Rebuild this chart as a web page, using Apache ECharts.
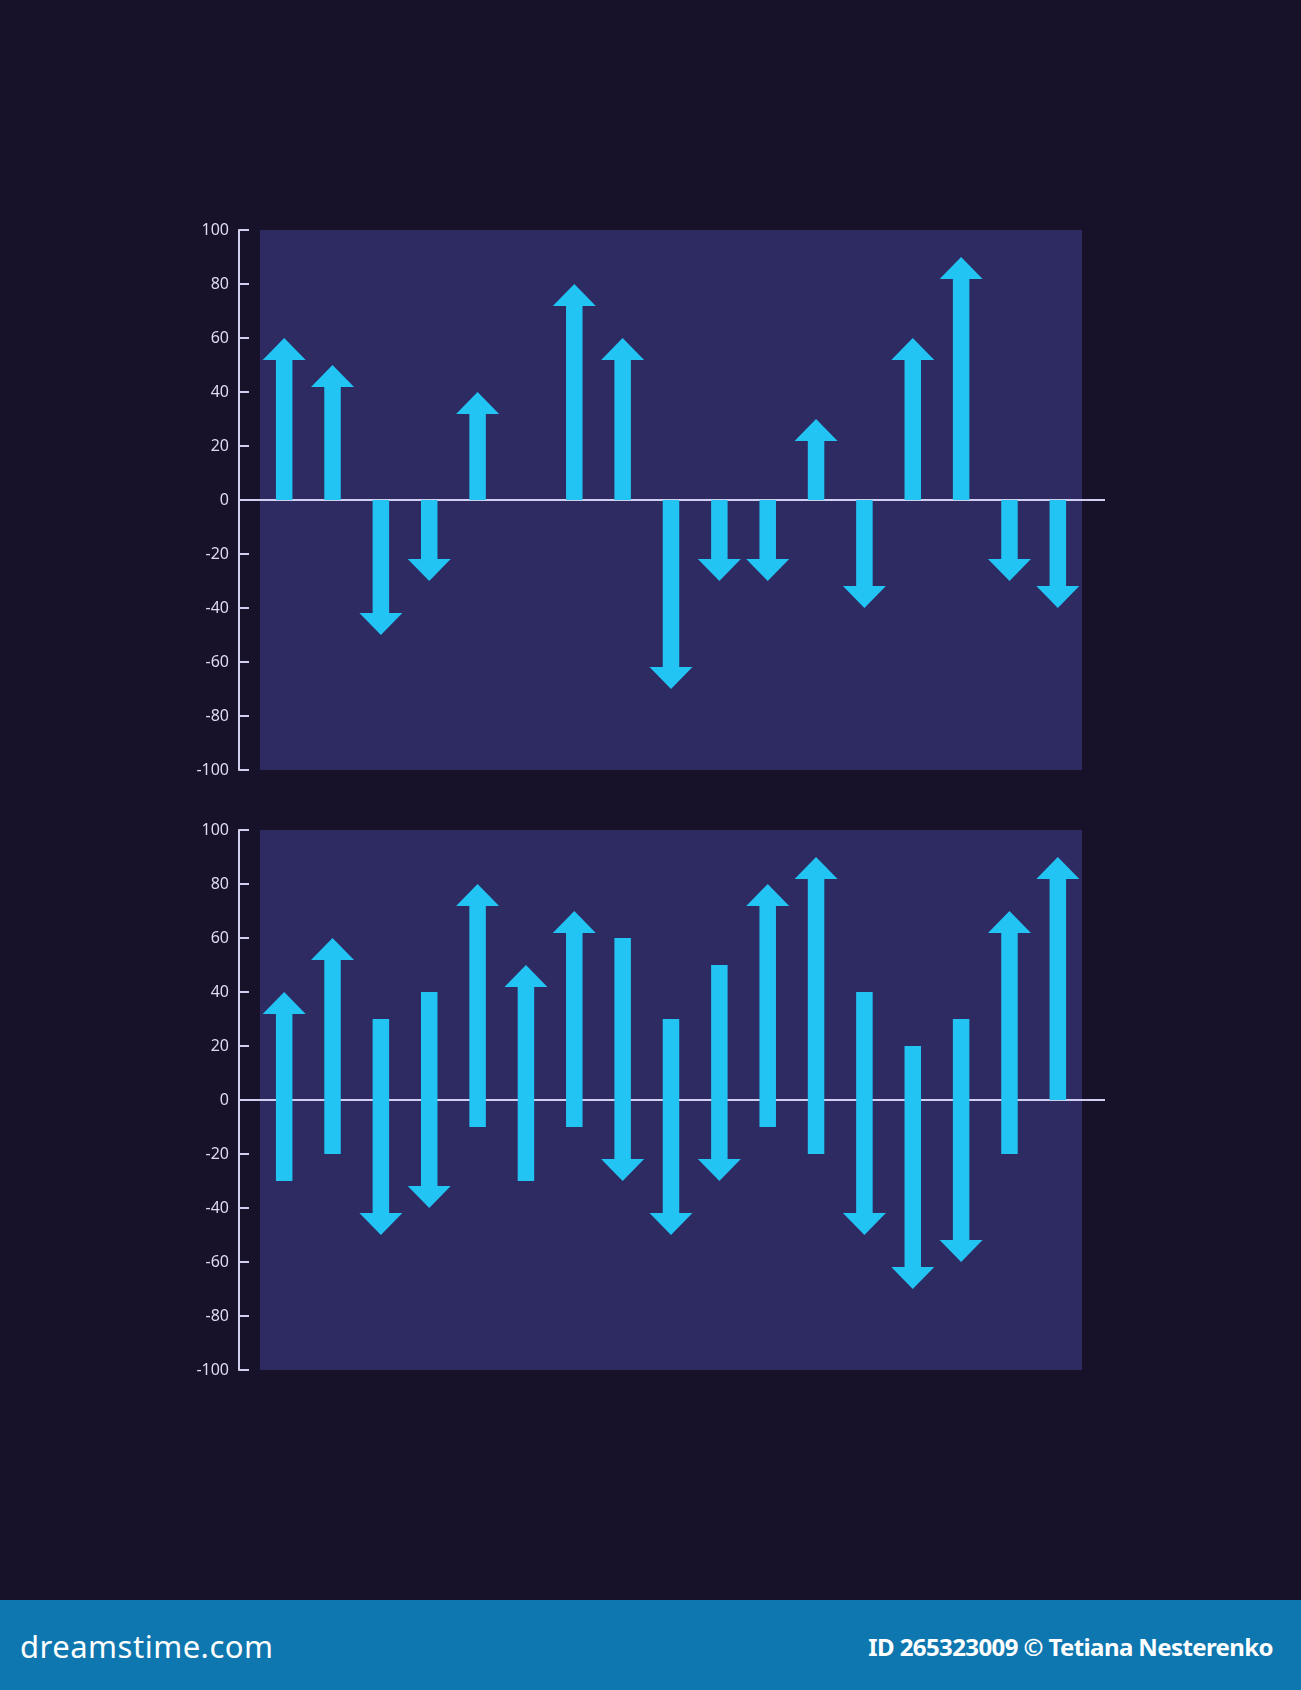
<!DOCTYPE html>
<html>
<head>
<meta charset="utf-8">
<script src="https://cdn.jsdelivr.net/npm/echarts@6/dist/echarts.min.js"></script>
<style>
html,body{margin:0;padding:0;background:#17112a;}
#chart{width:1301px;height:1600px;}
#banner{position:absolute;left:0;top:1600px;width:1301px;height:90px;background:#0f77b0;color:#fff;font-family:"Noto Sans",sans-serif;}
#banner .l{position:absolute;left:20px;top:25px;font-size:31px;letter-spacing:0.5px;}
#banner .r{position:absolute;right:28px;top:30px;font-size:24px;font-weight:bold;letter-spacing:-0.6px;}
</style>
</head>
<body>
<div id="chart"></div>
<div id="banner"><span class="l">dreamstime.com</span><span class="r">ID 265323009 © Tetiana Nesterenko</span></div>
<script>
// ---- data ----
var categories = ['1','2','3','4','5','6','7','8','9','10','11','12','13','14','15','16','17'];
var yTicks = [-100,-80,-60,-40,-20,0,20,40,60,80,100];
// top panel: arrows start at 0 and point to value (null = no arrow)
var topValues = [60, 50, -50, -30, 40, null, 80, 60, -70, -30, -30, 30, -40, 60, 90, -30, -40];
// bottom panel: arrow tail (from) and tip (to)
var bottomFrom = [-30, -20, 30, 40, -10, -30, -10, 60, 30, 50, -10, -20, 40, 20, 30, -20, 0];
var bottomTo   = [40, 60, -50, -40, 80, 50, 70, -30, -50, -30, 80, 90, -50, -70, -60, 70, 90];

var ARROW = '#22c4f4';
var AXIS = '#d2cef0';
var PANEL = '#2e2b63';

function arrowItem(params, api) {
  var i = api.value(0), from = api.value(1), to = api.value(2);
  var p0 = api.coord([i, from]);
  var p1 = api.coord([i, to]);
  var cx = p0[0];
  var headH = 22, headW = 43, shaftW = 16.5;
  var dir = to > from ? 1 : -1; // 1: pointing up
  var baseY = p1[1] + dir * headH;
  var y1 = Math.min(p0[1], baseY), y2 = Math.max(p0[1], baseY);
  return {
    type: 'group',
    children: [
      {type: 'rect', shape: {x: cx - shaftW / 2, y: y1, width: shaftW, height: y2 - y1}, style: {fill: ARROW}},
      {type: 'polygon', shape: {points: [[cx - headW / 2, baseY], [cx + headW / 2, baseY], [cx, p1[1]]]}, style: {fill: ARROW}}
    ]
  };
}

function zeroLine(params, api) {
  var cs = params.coordSys;
  var y = api.coord([0, 0])[1];
  return {
    type: 'line',
    shape: {x1: cs.x - 21, y1: y, x2: cs.x + cs.width + 23, y2: y},
    style: {stroke: AXIS, lineWidth: 2}
  };
}

var topData = [];
topValues.forEach(function (v, i) { if (v !== null) topData.push([i, 0, v]); });
var bottomData = bottomFrom.map(function (f, i) { return [i, f, bottomTo[i]]; });

function yAxisDef(gi) {
  return {
    type: 'value', gridIndex: gi, min: -100, max: 100, interval: 20, offset: 21,
    axisLine: {show: true, lineStyle: {color: AXIS, width: 2}},
    axisTick: {show: true, inside: true, length: 10, lineStyle: {color: AXIS, width: 2}},
    axisLabel: {color: '#dedbf2', fontSize: 16, fontFamily: 'Noto Sans', margin: 10,
      formatter: function (v) { return yTicks.indexOf(v) >= 0 ? String(v) : ''; }},
    splitLine: {show: false}
  };
}
function xAxisDef(gi) {
  return {type: 'category', gridIndex: gi, data: categories, boundaryGap: true,
    axisLine: {show: false}, axisTick: {show: false}, axisLabel: {show: false}, splitLine: {show: false}};
}

var chart = echarts.init(document.getElementById('chart'), null, {renderer: 'canvas'});
chart.setOption({
  backgroundColor: '#17112a',
  animation: false,
  grid: [
    {left: 260, width: 822, top: 230, height: 540, show: true, backgroundColor: PANEL, borderWidth: 0},
    {left: 260, width: 822, top: 830, height: 540, show: true, backgroundColor: PANEL, borderWidth: 0}
  ],
  xAxis: [xAxisDef(0), xAxisDef(1)],
  yAxis: [yAxisDef(0), yAxisDef(1)],
  series: [
    {type: 'custom', xAxisIndex: 0, yAxisIndex: 0, data: [[0]], renderItem: zeroLine, clip: false, z: 1},
    {type: 'custom', xAxisIndex: 0, yAxisIndex: 0, data: topData, renderItem: arrowItem, clip: false, z: 2},
    {type: 'custom', xAxisIndex: 1, yAxisIndex: 1, data: [[0]], renderItem: zeroLine, clip: false, z: 1},
    {type: 'custom', xAxisIndex: 1, yAxisIndex: 1, data: bottomData, renderItem: arrowItem, clip: false, z: 2}
  ]
});
</script>
</body>
</html>
